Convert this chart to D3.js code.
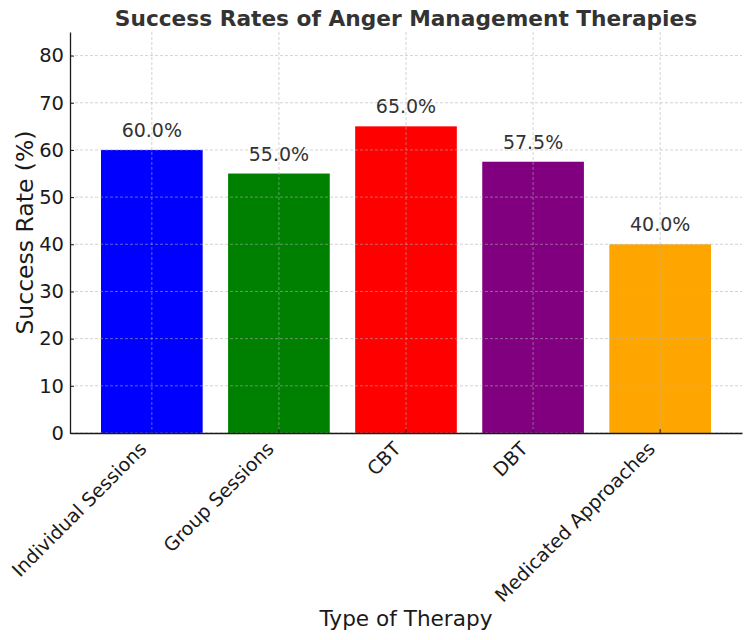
<!DOCTYPE html>
<html lang="en">
<head>
<meta charset="UTF-8">
<title>Success Rates of Anger Management Therapies</title>
<script src="https://cdnjs.cloudflare.com/ajax/libs/d3/7.8.5/d3.min.js"></script>
<style>
body { margin: 0; background: #fff; }
svg { display: block; font-family: "DejaVu Sans", sans-serif; }
.grid line { stroke: #b0b0b0; stroke-opacity: 0.7; stroke-dasharray: 3,2; stroke-width: 0.8px; }
</style>
</head>
<body>
<div id="chart"></div>
<script>
// data
const therapies = ["Individual Sessions", "Group Sessions", "CBT", "DBT", "Medicated Approaches"];
const rates = [60, 55, 65, 57.5, 40];
const barColors = ["#0000ff", "#008000", "#ff0000", "#800080", "#ffa500"];
const yTicks = [0, 10, 20, 30, 40, 50, 60, 70, 80];

const width = 750, height = 640;
const margin = { top: 32, right: 8, bottom: 207, left: 70 };
const innerW = width - margin.left - margin.right;
const innerH = height - margin.top - margin.bottom;
const ink = '#1a1a1a';

const svg = d3.select('#chart').append('svg')
    .attr('width', width)
    .attr('height', height);

const g = svg.append('g')
    .attr('transform', 'translate(' + margin.left + ',' + margin.top + ')');

const x = d3.scaleBand()
    .domain(therapies)
    .range([0, innerW])
    .paddingInner(0.2)
    .paddingOuter(0.244);

const y = d3.scaleLinear()
    .domain([0, 85])
    .range([innerH, 0]);

// bars
g.selectAll('rect.bar')
    .data(therapies)
    .enter().append('rect')
    .attr('class', 'bar')
    .attr('x', d => x(d))
    .attr('width', x.bandwidth())
    .attr('y', (d, i) => y(rates[i]))
    .attr('height', (d, i) => innerH - y(rates[i]))
    .attr('fill', (d, i) => barColors[i]);

// grid on top of bars, like the original
const grid = g.append('g').attr('class', 'grid');
grid.selectAll('line.h')
    .data(yTicks)
    .enter().append('line')
    .attr('class', 'h')
    .attr('x1', 0).attr('x2', innerW)
    .attr('y1', d => y(d)).attr('y2', d => y(d));
grid.selectAll('line.v')
    .data(therapies)
    .enter().append('line')
    .attr('class', 'v')
    .attr('x1', d => x(d) + x.bandwidth() / 2)
    .attr('x2', d => x(d) + x.bandwidth() / 2)
    .attr('y1', 0).attr('y2', innerH);

// value labels
g.selectAll('text.val')
    .data(therapies)
    .enter().append('text')
    .attr('class', 'val')
    .attr('x', d => x(d) + x.bandwidth() / 2)
    .attr('y', (d, i) => y(rates[i]) - 13)
    .attr('text-anchor', 'middle')
    .attr('font-size', 19)
    .attr('fill', '#333')
    .text((d, i) => rates[i].toFixed(1) + '%');

// y axis, ticks point inward
const yAxis = g.append('g')
    .call(d3.axisLeft(y).tickValues(yTicks).tickSize(-4).tickPadding(6).tickSizeOuter(0));
yAxis.select('.domain').attr('stroke', ink).attr('stroke-width', 1.3);
yAxis.selectAll('.tick line').attr('stroke', ink);
yAxis.selectAll('.tick text')
    .attr('font-size', 19.5)
    .attr('font-family', '"DejaVu Sans", sans-serif')
    .attr('fill', ink);

// x axis
const xAxis = g.append('g')
    .attr('transform', 'translate(0,' + innerH + ')')
    .call(d3.axisBottom(x).tickSize(-4).tickSizeOuter(0));
xAxis.select('.domain').attr('stroke', ink).attr('stroke-width', 1.3);
xAxis.selectAll('.tick line').attr('stroke', ink);
xAxis.selectAll('.tick text')
    .attr('font-size', 19)
    .attr('font-family', '"DejaVu Sans", sans-serif')
    .attr('fill', ink)
    .attr('text-anchor', 'end')
    .attr('y', 0).attr('dy', 0)
    .attr('transform', 'translate(-4,17) rotate(-45)');

// title and axis labels
svg.append('text')
    .attr('x', margin.left + innerW / 2)
    .attr('y', 25.5)
    .attr('text-anchor', 'middle')
    .attr('font-size', 21.7)
    .attr('font-weight', 'bold')
    .attr('fill', '#333')
    .text('Success Rates of Anger Management Therapies');

svg.append('text')
    .attr('x', margin.left + innerW / 2)
    .attr('y', 626)
    .attr('text-anchor', 'middle')
    .attr('font-size', 21.6)
    .attr('fill', ink)
    .text('Type of Therapy');

svg.append('text')
    .attr('transform', 'translate(33,' + (margin.top + innerH / 2) + ') rotate(-90)')
    .attr('text-anchor', 'middle')
    .attr('font-size', 23.5)
    .attr('fill', ink)
    .text('Success Rate (%)');
</script>
</body>
</html>
